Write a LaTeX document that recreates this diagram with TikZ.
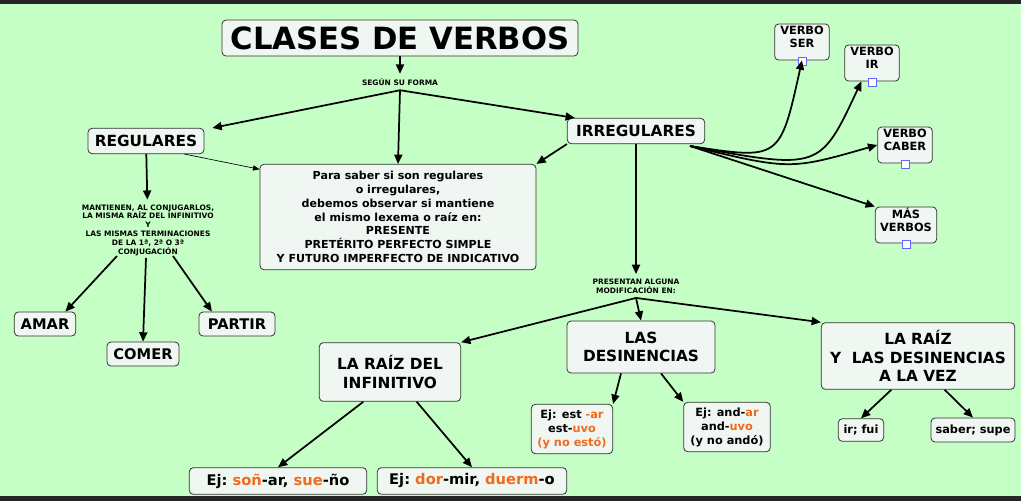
\documentclass[tikz,border=0pt]{standalone}
\usepackage{fontspec}
\setmainfont{DejaVu Sans}
\usetikzlibrary{arrows.meta}
\definecolor{bg}{HTML}{C6FFC6}
\definecolor{boxf}{HTML}{F0F6F2}
\definecolor{org}{HTML}{F26A1B}
\begin{document}
\begin{tikzpicture}[x=0.75pt,y=-0.75pt,
  box/.style={draw=black!80,fill=boxf,rounded corners=3pt,line width=0.6pt,align=center,font=\bfseries,inner sep=0pt},
  lbl/.style={align=center,font=\bfseries\fontsize{5.6}{6.6}\selectfont},
  arr/.style={-{Triangle[length=7pt,width=6pt]},line width=1.3pt},
  ic/.style={draw=blue!60,fill=white,minimum size=6pt,inner sep=0pt}]
\fill[bg] (0,0) rectangle (1021,501);
\fill[black!85] (0,0) rectangle (1021,4);
\fill[black!85] (0,496) rectangle (1021,501);
\node[box,minimum width=267pt,minimum height=27pt,font=\bfseries\fontsize{23}{26}\selectfont] (t) at (400,38) {CLASES DE VERBOS};
\node[lbl] (sf) at (400,82) {SEGÚN SU FORMA};
\node[box,minimum width=87pt,minimum height=19pt,font=\bfseries\fontsize{11.5}{13}\selectfont] (reg) at (146,141) {REGULARES};
\node[box,minimum width=103pt,minimum height=19pt,font=\bfseries\fontsize{11.5}{13}\selectfont] (irr) at (636,131) {IRREGULARES};
\node[box,minimum width=207pt,minimum height=79pt,font=\bfseries\fontsize{8.3}{10.3}\selectfont] (c) at (398,217) {Para saber si son regulares\\o irregulares,\\debemos observar si mantiene\\el mismo lexema o raíz en:\\PRESENTE\\PRETÉRITO PERFECTO SIMPLE\\Y FUTURO IMPERFECTO DE INDICATIVO};
\node[lbl] (m) at (148,230) {MANTIENEN, AL CONJUGARLOS,\\LA MISMA RAÍZ DEL INFINITIVO\\Y\\LAS MISMAS TERMINACIONES\\DE LA 1ª, 2ª O 3ª\\CONJUGACIÓN};
\node[box,minimum width=46pt,minimum height=18pt,font=\bfseries\fontsize{11}{13}\selectfont] (amar) at (45,324) {AMAR};
\node[box,minimum width=54pt,minimum height=18pt,font=\bfseries\fontsize{11}{13}\selectfont] (comer) at (143,354) {COMER};
\node[box,minimum width=57pt,minimum height=18pt,font=\bfseries\fontsize{11}{13}\selectfont] (partir) at (237,324) {PARTIR};
\tikzset{vb/.style={box,minimum width=41pt,minimum height=27pt,font=\bfseries\fontsize{8.5}{10}\selectfont}}
\node[vb] (ser) at (802,42) {VERBO\\SER\\[-2pt]};
\node[vb] (ir) at (872,63) {VERBO\\IR\\[-2pt]};
\node[vb] (cab) at (905,145) {VERBO\\CABER\\[-2pt]};
\node[vb,minimum width=46pt] (mas) at (906,225) {MÁS\\VERBOS\\[-2pt]};
\foreach \n in {ser,ir,cab,mas} \node[ic] at ([yshift=-1pt]\n.south) {};
\node[lbl] (pr) at (636,286) {PRESENTAN ALGUNA\\MODIFICACIÓN EN:};
\tikzset{bb/.style={box,font=\bfseries\fontsize{11.5}{14}\selectfont}}
\node[bb,minimum width=106pt,minimum height=44pt] (ri) at (390,372) {LA RAÍZ DEL\\INFINITIVO};
\node[bb,minimum width=111pt,minimum height=39pt] (ld) at (641,347) {LAS\\DESINENCIAS};
\node[bb,minimum width=145pt,minimum height=50pt] (rv) at (918,356) {LA RAÍZ\\Y\ \ LAS DESINENCIAS\\A LA VEZ};
\tikzset{sb/.style={box,font=\bfseries\fontsize{8.5}{10.5}\selectfont}}
\node[sb,minimum width=61pt,minimum height=37pt] (est) at (572,429) {Ej: est \textcolor{org}{-ar}\\est-\textcolor{org}{uvo}\\\textcolor{org}{(y no estó)}};
\node[sb,minimum width=65pt,minimum height=37pt] (and) at (727,427) {Ej: and-\textcolor{org}{ar}\\and-\textcolor{org}{uvo}\\(y no andó)};
\node[sb,minimum width=34pt,minimum height=17pt] (fui) at (861,430) {ir; fui};
\node[sb,minimum width=63pt,minimum height=18pt] (sup) at (973,430) {saber; supe};
\tikzset{eb/.style={box,minimum height=20pt,font=\bfseries\fontsize{11}{13}\selectfont}}
\node[eb,minimum width=133pt] (e1) at (278,481) {Ej:~\textcolor{org}{soñ}-ar, \textcolor{org}{sue}-ño};
\node[eb,minimum width=142pt] (e2) at (472,481) {Ej:~\textcolor{org}{dor}-mir, \textcolor{org}{duerm}-o};
% connectors
\coordinate (m1) at (117,256);
\coordinate (m0) at (146,258);
\coordinate (m2) at (173,256);
\draw[arr] (t) -- (sf);
\draw[arr] (sf.south) -- ([xshift=6pt]reg.north east);
\draw[arr] (sf.south) -- (c.north);
\draw[arr] (sf.south) -- ([xshift=6pt]irr.north west);
\draw[arr] (irr.south west) -- (c.north east);
\draw[-{Triangle[length=5pt,width=4pt]},line width=0.5pt] ([xshift=-15pt]reg.south east) -- ([yshift=-4pt]c.north west);
\draw[arr] (reg) -- (m);
\draw[arr] (m1) -- ([xshift=-8pt]amar.north east);
\draw[arr] (m0) -- (comer.north);
\draw[arr] (m2) -- ([xshift=10pt]partir.north west);
\coordinate (ie) at (690,146);
\draw[arr] (ie) .. controls (780,160) .. (ser.south);
\draw[arr] (ie) .. controls (820,170) .. ([xshift=-8pt]ir.south);
\draw[arr] (ie) .. controls (790,170) .. (cab.west);
\draw[arr] (ie) -- (mas.north west);
\draw[arr] (irr.south) -- (pr.north);
\draw[arr] (pr.south) -- (ri.north east);
\draw[arr] (pr.south) -- (ld.north);
\draw[arr] (pr.south) -- (rv.north west);
\draw[arr] ([xshift=-20pt]ri.south) -- (e1.north);
\draw[arr] ([xshift=20pt]ri.south) -- (e2.north);
\draw[arr] ([xshift=-15pt]ld.south) -- (est.north east);
\draw[arr] ([xshift=15pt]ld.south) -- (and.north west);
\draw[arr] ([xshift=-20pt]rv.south) -- (fui.north);
\draw[arr] ([xshift=20pt]rv.south) -- (sup.north);
\end{tikzpicture}
\end{document}
